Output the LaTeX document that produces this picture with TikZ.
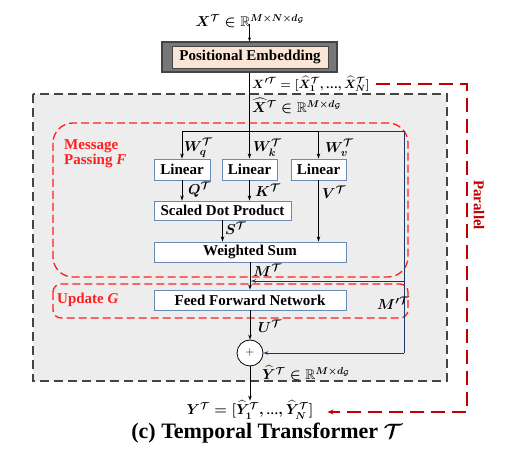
\documentclass[tikz,border=0pt]{standalone}
\usepackage{amsmath,amssymb}
\usepackage{fontspec}
\setmainfont{Liberation Serif}
\usetikzlibrary{arrows.meta}
\definecolor{mpred}{HTML}{FF1F1F}
\definecolor{parred}{HTML}{C00000}
\definecolor{boxblue}{HTML}{6A8CB4}
\definecolor{navyl}{HTML}{1F3466}
\definecolor{grayfill}{HTML}{EDEDED}
\definecolor{graydash}{HTML}{444444}
\definecolor{peach}{HTML}{FBE5D6}
\definecolor{pegray}{HTML}{777777}
\newcommand{\tdots}{\text{\bfseries\fontsize{12}{14}\selectfont …}}
\begin{document}
\begin{tikzpicture}[x=1pt,y=-1pt,
  blk/.style={draw=boxblue, fill=white, line width=0.9pt, inner sep=0pt,
    font=\bfseries\fontsize{15}{17}\selectfont},
  lbl/.style={font=\fontsize{14}{16}\selectfont\boldmath, inner sep=0pt},
  slbl/.style={font=\fontsize{15.5}{17}\selectfont\boldmath, inner sep=0pt},
  arr/.style={line width=0.8pt, -{Stealth[length=5pt,width=3.5pt]}},
  nav/.style={draw=navyl, line width=0.9pt},
  navarr/.style={nav, -{Stealth[length=5pt,width=3.5pt]}},
  mpbox/.style={draw=mpred, line width=1.3pt, dash pattern=on 8pt off 4pt},
  partxt/.style={text=parred, font=\bfseries\fontsize{15}{17}\selectfont},
  redtxt/.style={text=mpred, font=\bfseries\fontsize{15}{17}\selectfont, align=left, inner sep=0pt}
]
\useasboundingbox (0,0) rectangle (509,462);

% gray dashed area
\draw[fill=grayfill, draw=graydash, line width=1.2pt, dash pattern=on 9pt off 5pt] (33,94) rectangle (447,381);

% message passing and update boxes
\draw[mpbox, rounded corners=20pt] (53,123) rectangle (408,277);
\draw[mpbox, rounded corners=8pt] (53,284) rectangle (408,318);
\node[redtxt, anchor=north west] (mptxt) at (64,139) {Message\\[-2pt]Passing \textit{F}};
\node[redtxt, anchor=west] (updtxt) at (57,300) {Update \textit{G}};

% top input
\node[lbl] (xt) at (250,21) {$X^{\mathcal{T}}\in\mathbb{R}^{M\times N\times d_{\mathcal{G}}}$};
\node[draw=graydash, fill=pegray, line width=1.2pt, minimum width=175pt, minimum height=30pt, inner sep=0pt] (peo) at (249.5,57) {};
\node[draw=graydash, fill=peach, line width=0.9pt, minimum width=156pt, minimum height=22pt, inner sep=0pt,
  font=\bfseries\fontsize{15}{17}\selectfont] (pei) at (250,57) {Positional Embedding};
\draw[arr, -{Stealth[length=4pt,width=3pt]}] ([yshift=4pt]xt.south -| peo.north) -- (peo.north);

% labels on main line
\node[lbl, font=\fontsize{13}{15}\selectfont\boldmath, anchor=west] (xp) at (252,84) {$X'^{\mathcal{T}}=[\widehat{X}^{\mathcal{T}}_1,\tdots,\widehat{X}^{\mathcal{T}}_N]$};
\node[lbl, anchor=west] (xh) at (252,106) {$\widehat{X}^{\mathcal{T}}\in\mathbb{R}^{M\times d_{\mathcal{G}}}$};

% blocks
\node[blk, minimum width=56pt, minimum height=21pt] (linq) at (182,169.5) {Linear};
\node[blk, minimum width=55pt, minimum height=21pt] (link) at (249.5,169.5) {Linear};
\node[blk, minimum width=55pt, minimum height=21pt] (linv) at (318.5,169.5) {Linear};
\node[blk, minimum width=137pt, minimum height=19pt] (sdp) at (222.5,210.5) {Scaled Dot Product};
\node[blk, minimum width=192pt, minimum height=20pt] (ws) at (250,252) {Weighted Sum};
\node[blk, minimum width=192pt, minimum height=20pt] (ffn) at (250,300) {Feed Forward Network};
\node[draw=black, fill=white, circle, minimum size=26pt, inner sep=0pt, line width=0.8pt] (plus) at (250,353) {\fontsize{13}{15}\selectfont$+$};

% branch coordinates
\coordinate (br) at (250,131);
\coordinate (nr) at (404,131);
\coordinate (nb) at (404,353);
\coordinate (mm) at (250,281);

% main line
\draw[arr] (peo.south) -- (link.north);
\draw[line width=0.8pt] (linq.north |- br) -- (linv.north |- br);
\draw[arr] (linq.north |- br) -- (linq.north);
\draw[arr] (linv.north |- br) -- (linv.north);
\draw[nav] (linv.north |- br) -- (nr) -- (nb);
\draw[navarr] (nb) -- (plus.east);
\draw[navarr] (nr |- mm) -- ([xshift=1pt]mm);

\draw[arr] (linq.south) -- (linq.south |- sdp.north);
\draw[arr] (link.south) -- (link.south |- sdp.north);
\draw[arr] (sdp.south) -- (sdp.south |- ws.north);
\draw[arr] (linv.south) -- (linv.south |- ws.north);
\draw[arr] (ws.south) -- (ffn.north);
\draw[arr] (ffn.south) -- (plus.north);

% labels
\node[slbl, anchor=west] (wq) at (184,148) {$W^{\mathcal{T}}_q$};
\node[slbl, anchor=west] (wk) at (253,148) {$W^{\mathcal{T}}_k$};
\node[slbl, anchor=west] (wv) at (325,148) {$W^{\mathcal{T}}_v$};
\node[slbl, anchor=west] (ql) at (188,190) {$Q^{\mathcal{T}}$};
\node[slbl, anchor=west] (kl) at (255,190) {$K^{\mathcal{T}}$};
\node[slbl, anchor=west] (vl) at (322,192) {$V^{\mathcal{T}}$};
\node[slbl, anchor=west] (sl) at (225,228) {$S^{\mathcal{T}}$};
\node[slbl, anchor=west] (ml) at (253,270) {$M^{\mathcal{T}}$};
\node[slbl, anchor=west] (mpl) at (377,303) {$M'^{\mathcal{T}}$};
\node[slbl, anchor=west] (ul) at (258,326) {$U^{\mathcal{T}}$};
\node[lbl, anchor=west] (yh) at (262,373) {$\widehat{Y}^{\mathcal{T}}\in\mathbb{R}^{M\times d_{\mathcal{G}}}$};

% output
\node[lbl] (yt) at (250,410) {$Y^{\mathcal{T}}=[\widehat{Y}^{\mathcal{T}}_1,\tdots,\widehat{Y}^{\mathcal{T}}_N]$};
\draw[arr] (plus.south) -- (yt.north);

% parallel
\coordinate (pa) at ([xshift=6pt]xp.east);
\coordinate (pb) at (467,84);
\coordinate (pc) at (467,412);
\coordinate (pd) at ([xshift=14pt]yt.east);
\draw[draw=parred, line width=1.8pt, dash pattern=on 14pt off 7pt, -{Stealth[length=6pt,width=5pt]}]
  (pa) -- (pb) -- (pc) -- (pc -| pd);
\node[partxt, rotate=-90] (par) at (479,205) {Parallel};

% title
\node[font=\bfseries\fontsize{22}{24}\selectfont, inner sep=0pt] (title) at (267,433) {(c) Temporal Transformer {\boldmath$\mathcal{T}$}};
\end{tikzpicture}
\end{document}
